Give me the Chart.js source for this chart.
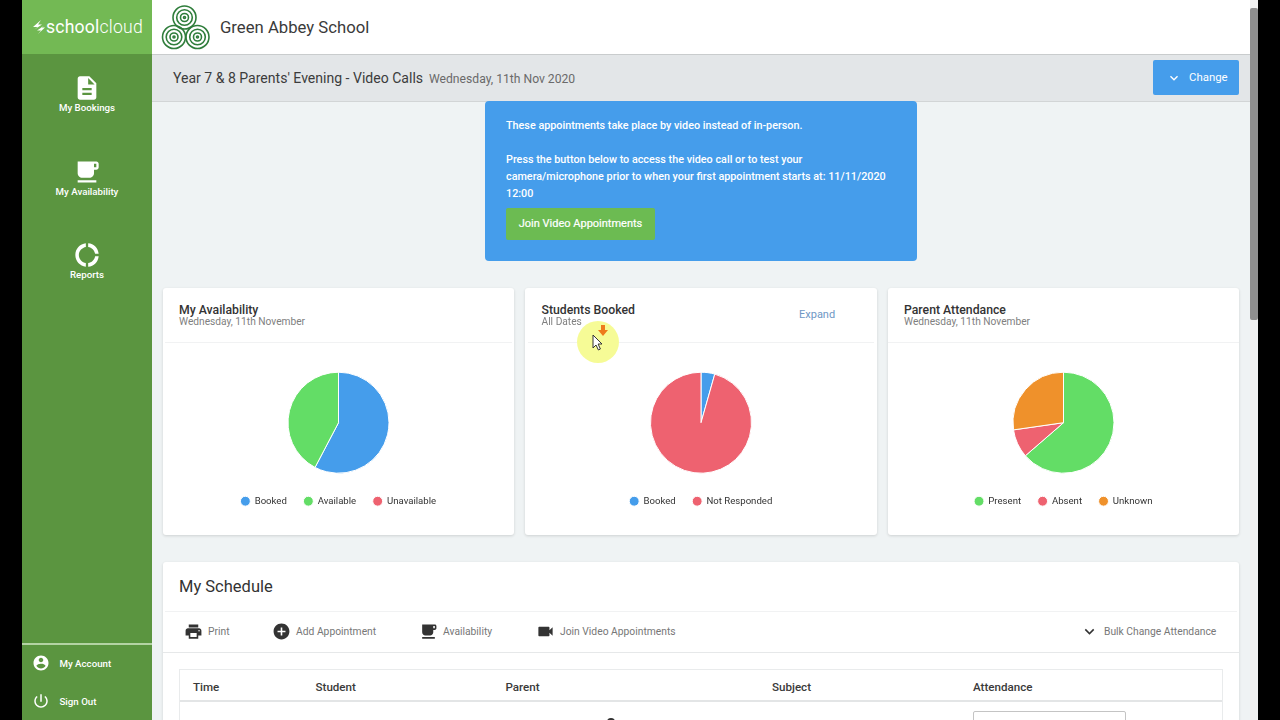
<!DOCTYPE html>
<html>
<head>
<meta charset="utf-8">
<title>Green Abbey School</title>
<script src="https://cdn.jsdelivr.net/npm/chart.js@4/dist/chart.umd.min.js"></script>
<style>
html,body{margin:0;padding:0;width:1280px;height:720px;overflow:hidden;background:#000;font-family:Roboto,sans-serif;}
.box{position:absolute;}
.t{position:absolute;white-space:nowrap;transform:translateY(-50%);}
.c{text-align:center;}
.card{position:absolute;background:#fff;border-radius:3px;box-shadow:0 1px 3px rgba(0,0,0,.14);}
.ct{font-size:12.25px;font-weight:500;color:#333;}
.cs{font-size:10.2px;color:#808080;}
.nav{font-size:9.7px;font-weight:500;color:#fff;}
.tool{font-size:10.3px;color:#777;}
.th{font-size:11.6px;font-weight:500;color:#3a3a3a;}
.msg{font-size:10.8px;font-weight:500;color:#fff;}
svg{position:absolute;display:block;}
canvas{position:absolute;}
</style>
</head>
<body>
<!-- page chrome -->
<div class="box" style="left:22px;top:0;width:130px;height:54px;background:#73b954"></div>
<div class="box" style="left:22px;top:54px;width:130px;height:666px;background:#5b9540"></div>
<div class="box" style="left:152px;top:0;width:1098px;height:720px;background:#eff3f4"></div>
<div class="box" style="left:152px;top:0;width:1098px;height:54px;background:#fff;border-bottom:1px solid #c9cccd"></div>
<div class="box" style="left:152px;top:55px;width:1098px;height:46px;background:#e3e6e8;border-bottom:1px solid #d2d5d6"></div>
<div class="box" style="left:1250px;top:0;width:8px;height:720px;background:#f1f1f1"></div>
<div class="box" style="left:1250px;top:8px;width:8px;height:312px;background:#8f8f8f;border-radius:2px"></div>

<!-- logo -->
<svg style="left:33px;top:20px" width="12" height="14" viewBox="0 0 12 14"><path fill="#fff" d="M8 0L0 7h4.5L1.5 9.5 9 4.5H5zM11.5 5.5L4 10.5h4L5 14l7-6.5H8z"/></svg>
<div class="t" style="left:46px;top:27px;font-size:17.6px;color:#fff;letter-spacing:.2px">school<span style="font-weight:300">cloud</span></div>
<svg style="left:160px;top:3px" width="52" height="48" viewBox="0 0 52 48" fill="none" stroke="#2f7d3b" stroke-width="1.6">
  <g><circle cx="24.5" cy="14.5" r="11.5"/><circle cx="24.5" cy="14.5" r="7.8"/><circle cx="24.5" cy="14.5" r="4"/><circle cx="24.5" cy="14.5" r="1"/></g>
  <g><circle cx="14" cy="34" r="11.5"/><circle cx="14" cy="34" r="7.8"/><circle cx="14" cy="34" r="4"/><circle cx="14" cy="34" r="1"/></g>
  <g><circle cx="37.5" cy="34" r="11.5"/><circle cx="37.5" cy="34" r="7.8"/><circle cx="37.5" cy="34" r="4"/><circle cx="37.5" cy="34" r="1"/></g>
</svg>
<div class="t" style="left:220px;top:27px;font-size:16.7px;color:#3a3a3a">Green Abbey School</div>
<div class="t" style="left:173px;top:78px;font-size:14.05px;color:#3c3c3c">Year 7 &amp; 8 Parents' Evening - Video Calls</div>
<div class="t" style="left:429px;top:79px;font-size:12.15px;color:#6a6a6a">Wednesday, 11th Nov 2020</div>
<div class="box" style="left:1153px;top:60px;width:86px;height:35px;background:#459deb;border-radius:2px"></div>
<svg style="left:1166px;top:70px" width="16" height="16" viewBox="0 0 24 24"><path fill="#fff" d="M16.59 8.59L12 13.17 7.41 8.59 6 10l6 6 6-6z"/></svg>
<div class="t" style="left:1189px;top:77px;font-size:11.4px;color:#fff">Change</div>

<!-- sidebar -->
<svg style="left:73px;top:74px" width="28" height="28" viewBox="0 0 24 24"><path fill="#fff" d="M14 2H6c-1.1 0-1.99.9-1.99 2L4 20c0 1.1.89 2 1.99 2H18c1.1 0 2-.9 2-2V8l-6-6zm2 16H8v-2h8v2zm0-4H8v-2h8v2zm-3-5V3.5L18.5 9H13z"/></svg>
<div class="t nav c" style="left:22px;width:130px;top:107px">My Bookings</div>
<svg style="left:73px;top:158px" width="28" height="28" viewBox="0 0 24 24"><path fill="#fff" d="M20 3H4v10c0 2.21 1.79 4 4 4h6c2.21 0 4-1.79 4-4v-3h2c1.11 0 2-.89 2-2V5c0-1.11-.89-2-2-2zm0 5h-2V5h2v3zM4 19h16v2H4z"/></svg>
<div class="t nav c" style="left:22px;width:130px;top:190.5px">My Availability</div>
<svg style="left:73px;top:241px" width="28" height="28" viewBox="0 0 24 24"><path fill="#fff" d="M11 5.08V2c-5 .5-9 4.81-9 10s4 9.5 9 10v-3.08c-3-.48-6-3.19-6-6.92s3-6.44 6-6.92zM18.97 11H22c-.47-5-4-8.53-9-9v3.08C16 5.51 18.54 8 18.97 11zM13 18.92V22c5-.47 8.53-4 9-9h-3.03c-.43 3-2.97 5.49-5.97 5.92z"/></svg>
<div class="t nav c" style="left:22px;width:130px;top:274px">Reports</div>
<div class="box" style="left:22px;top:643px;width:130px;height:2px;background:#b4d3a4"></div>
<svg style="left:32px;top:654px" width="18" height="18" viewBox="0 0 24 24"><path fill="#fff" d="M12 2C6.48 2 2 6.48 2 12s4.48 10 10 10 10-4.48 10-10S17.52 2 12 2zm0 3c1.66 0 3 1.34 3 3s-1.34 3-3 3-3-1.34-3-3 1.34-3 3-3zm0 14.2c-2.5 0-4.71-1.28-6-3.22.03-1.99 4-3.08 6-3.08 1.99 0 5.97 1.09 6 3.08-1.29 1.94-3.5 3.22-6 3.22z"/></svg>
<div class="t nav" style="left:59.5px;top:662.5px">My Account</div>
<svg style="left:32px;top:692px" width="18" height="18" viewBox="0 0 24 24"><path fill="#fff" d="M13 3h-2v10h2V3zm4.83 2.17l-1.42 1.42C17.99 7.86 19 9.81 19 12c0 3.87-3.13 7-7 7s-7-3.13-7-7c0-2.19 1.01-4.14 2.58-5.42L6.17 5.17C4.23 6.82 3 9.26 3 12c0 4.97 4.03 9 9 9s9-4.03 9-9c0-2.74-1.23-5.18-3.17-6.83z"/></svg>
<div class="t nav" style="left:59.5px;top:700.5px">Sign Out</div>

<!-- video message -->
<div class="box" style="left:485px;top:101px;width:432px;height:160px;background:#459deb;border-radius:4px"></div>
<div class="t msg" style="left:506px;top:125px">These appointments take place by video instead of in-person.</div>
<div class="t msg" style="left:506px;top:159px">Press the button below to access the video call or to test your</div>
<div class="t msg" style="left:506px;top:176px">camera/microphone prior to when your first appointment starts at: 11/11/2020</div>
<div class="t msg" style="left:506px;top:193px">12:00</div>
<div class="box" style="left:506px;top:208px;width:149px;height:32px;background:#6cbb52;border-radius:2px"></div>
<div class="t c" style="left:506px;width:149px;top:223px;font-size:11px;color:#fff;-webkit-text-stroke:.2px #fff">Join Video Appointments</div>

<!-- chart cards -->
<div class="card" style="left:163px;top:288px;width:351px;height:247px"></div>
<div class="card" style="left:525px;top:288px;width:352px;height:247px"></div>
<div class="card" style="left:888px;top:288px;width:351px;height:247px"></div>
<div class="box" style="left:165px;top:342px;width:347px;height:1px;background:#f1f2f3"></div>
<div class="box" style="left:528px;top:342px;width:346px;height:1px;background:#f1f2f3"></div>
<div class="box" style="left:888px;top:342px;width:351px;height:1px;background:#f1f2f3"></div>
<div class="t ct" style="left:179px;top:310px">My Availability</div>
<div class="t cs" style="left:179px;top:321px">Wednesday, 11th November</div>
<div class="t ct" style="left:541.5px;top:310px">Students Booked</div>
<div class="t" style="left:799px;top:314px;font-size:11px;color:#6e97c4">Expand</div>
<div class="t ct" style="left:904px;top:310px">Parent Attendance</div>
<div class="t cs" style="left:904px;top:321px">Wednesday, 11th November</div>
<canvas id="pieAvailability" style="left:163px;top:345px"></canvas>
<canvas id="pieStudents" style="left:525px;top:345px"></canvas>
<canvas id="pieAttendance" style="left:888px;top:345px"></canvas>

<!-- mouse pointer -->
<div class="box" style="left:577px;top:321px;width:42px;height:42px;border-radius:50%;background:radial-gradient(circle,#f6fb96 70%,#fafcc8 100%)"></div>
<div class="t cs" style="left:541.5px;top:321px">All Dates</div>
<svg style="left:598px;top:325px" width="10" height="11" viewBox="0 0 10 11"><path fill="#ee7a1c" d="M3 0h4v5h3l-5 6-5-6h3z"/></svg>
<svg style="left:592px;top:334px" width="12" height="17" viewBox="0 0 12 17"><path fill="#fff" stroke="#333" stroke-width="1" d="M1 1v13l3-3 2.4 5 2-1-2.3-5H10z"/></svg>

<!-- schedule -->
<div class="card" style="left:163px;top:562px;width:1076px;height:170px"></div>
<div class="t" style="left:179px;top:586px;font-size:16.5px;color:#333">My Schedule</div>
<div class="box" style="left:165px;top:611px;width:1072px;height:1px;background:#f1f2f3"></div>
<div class="box" style="left:163px;top:652px;width:1076px;height:1px;background:#e6e8e9"></div>
<svg style="left:184px;top:622px" width="19" height="19" viewBox="0 0 24 24"><path fill="#333" d="M19 8H5c-1.66 0-3 1.34-3 3v6h4v4h12v-4h4v-6c0-1.66-1.34-3-3-3zm-3 11H8v-5h8v5zm3-7c-.55 0-1-.45-1-1s.45-1 1-1 1 .45 1 1-.45 1-1 1zm-1-9H6v4h12V3z"/></svg>
<div class="t tool" style="left:208px;top:631px">Print</div>
<svg style="left:272px;top:622px" width="19" height="19" viewBox="0 0 24 24"><path fill="#333" d="M12 2C6.48 2 2 6.48 2 12s4.48 10 10 10 10-4.48 10-10S17.52 2 12 2zm5 11h-4v4h-2v-4H7v-2h4V7h2v4h4v2z"/></svg>
<div class="t tool" style="left:296px;top:631px">Add Appointment</div>
<svg style="left:419px;top:622px" width="19" height="19" viewBox="0 0 24 24"><path fill="#333" d="M20 3H4v10c0 2.21 1.79 4 4 4h6c2.21 0 4-1.79 4-4v-3h2c1.11 0 2-.89 2-2V5c0-1.11-.89-2-2-2zm0 5h-2V5h2v3zM4 19h16v2H4z"/></svg>
<div class="t tool" style="left:443px;top:631px">Availability</div>
<svg style="left:536px;top:622px" width="19" height="19" viewBox="0 0 24 24"><path fill="#333" d="M17 10.5V7c0-.55-.45-1-1-1H4c-.55 0-1 .45-1 1v10c0 .55.45 1 1 1h12c.55 0 1-.45 1-1v-3.5l4 4v-11l-4 4z"/></svg>
<div class="t tool" style="left:560px;top:631px">Join Video Appointments</div>
<svg style="left:1080px;top:622px" width="19" height="19" viewBox="0 0 24 24"><path fill="#333" d="M16.59 8.59L12 13.17 7.41 8.59 6 10l6 6 6-6z"/></svg>
<div class="t tool" style="left:1104px;top:631px">Bulk Change Attendance</div>
<div class="box" style="left:179px;top:669px;width:1044px;height:60px;border:1px solid #e9ebec;box-sizing:border-box"></div>
<div class="box" style="left:180px;top:700px;width:1042px;height:2px;background:#e3e5e6"></div>
<div class="t th" style="left:193px;top:687px">Time</div>
<div class="t th" style="left:315.5px;top:687px">Student</div>
<div class="t th" style="left:505.5px;top:687px">Parent</div>
<div class="t th" style="left:772px;top:687px">Subject</div>
<div class="t th" style="left:973px;top:687px">Attendance</div>
<div class="box" style="left:973px;top:711px;width:153px;height:20px;border:1px solid #c4c4c4;border-radius:2px;box-sizing:border-box;background:#fff"></div>
<div class="box" style="left:607px;top:718px;width:8px;height:8px;border-radius:50%;background:#333"></div>

<script>
const availabilityLabels = ['Booked', 'Available', 'Unavailable'];
const availabilityValues = [15, 11, 0];
const studentsLabels = ['Booked', 'Not Responded'];
const studentsValues = [15, 326];
const attendanceLabels = ['Present', 'Absent', 'Unknown'];
const attendanceValues = [7, 1, 3];

const blue = '#459deb';
const green = '#63dd66';
const red = '#ee6270';
const orange = '#ef912b';

function makePie(id, labels, values, colors, w) {
  const canvas = document.getElementById(id);
  canvas.width = w;
  canvas.height = 171;
  return new Chart(canvas, {
    type: 'pie',
    data: {
      labels: labels,
      datasets: [{
        data: values,
        backgroundColor: colors,
        borderColor: '#fff',
        borderWidth: 1
      }]
    },
    options: {
      responsive: false,
      animation: false,
      radius: 50.5,
      layout: { padding: { top: 21 } },
      plugins: {
        tooltip: { enabled: false },
        legend: {
          position: 'bottom',
          labels: {
            usePointStyle: true,
            pointStyle: 'circle',
            boxWidth: 9,
            boxHeight: 7,
            padding: 17,
            color: '#333',
            font: { family: 'Roboto', size: 9.6 }
          }
        }
      }
    }
  });
}

makePie('pieAvailability', availabilityLabels, availabilityValues, [blue, green, red], 351);
makePie('pieStudents', studentsLabels, studentsValues, [blue, red], 352);
makePie('pieAttendance', attendanceLabels, attendanceValues, [green, red, orange], 351);
</script>
</body>
</html>
